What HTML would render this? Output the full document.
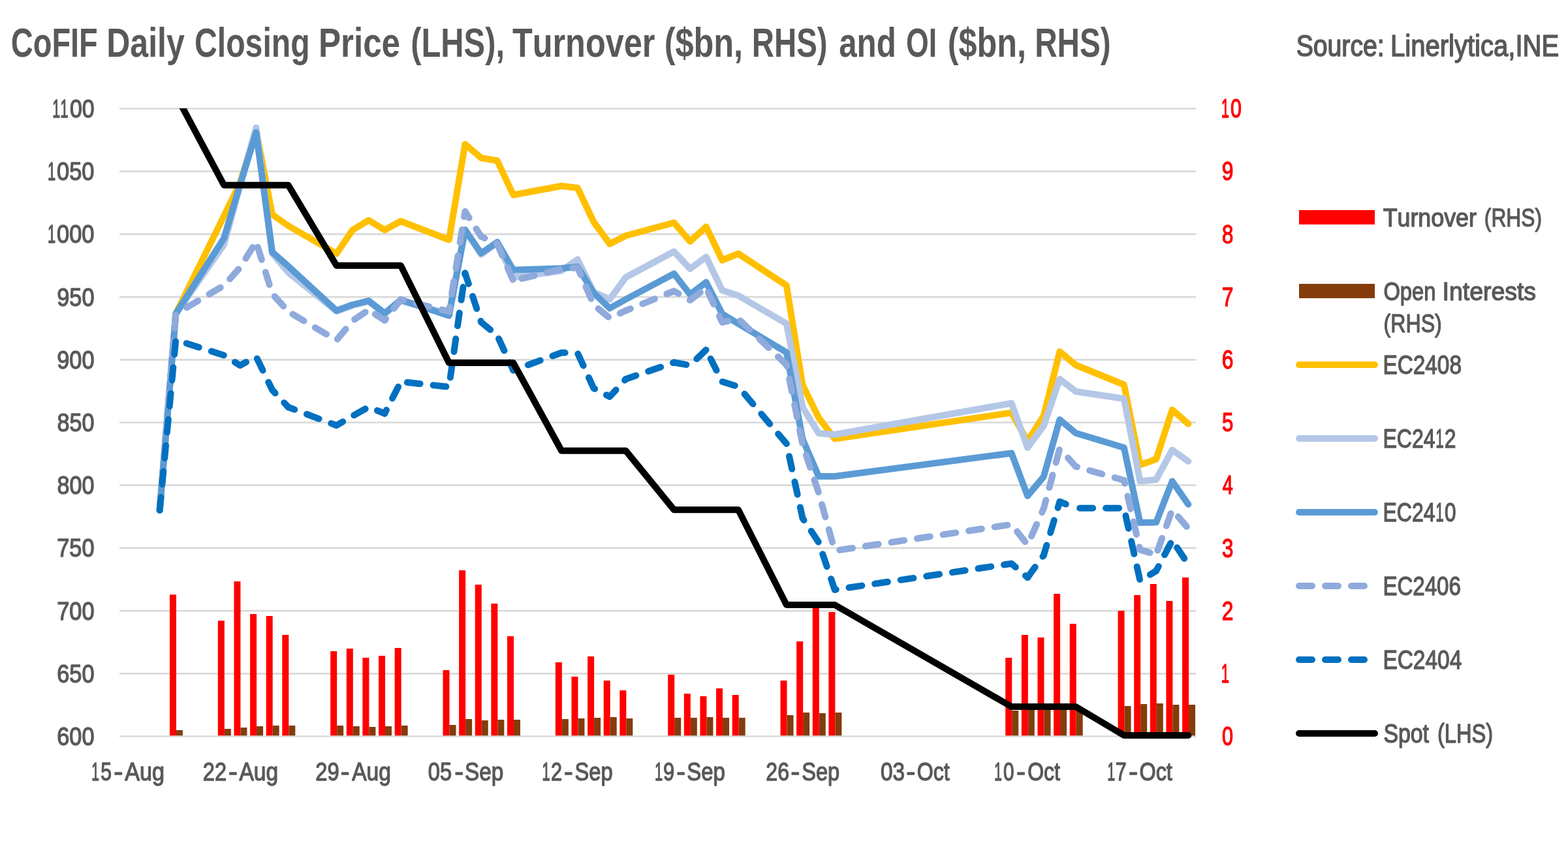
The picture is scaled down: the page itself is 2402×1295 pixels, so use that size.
<!DOCTYPE html>
<html lang="en"><head><meta charset="utf-8"><title>CoFIF Daily Closing Price</title>
<style>html,body{margin:0;padding:0;background:#fff;width:2402px;height:1295px;overflow:hidden}svg{display:block}text{font-family:"Liberation Sans",Arial,sans-serif;stroke-linejoin:round;font-kerning:none}</style></head><body>
<svg width="2402" height="1295" viewBox="0 0 2402 1295">
<title>CoFIF Daily Closing Price (LHS), Turnover ($bn, RHS) and OI ($bn, RHS)</title>
<desc>Combination chart. Source: Linerlytica,INE. Left axis 600 650 700 750 800 850 900 950 1000 1050 1100. Right axis 0 1 2 3 4 5 6 7 8 9 10. Dates 15-Aug 22-Aug 29-Aug 05-Sep 12-Sep 19-Sep 26-Sep 03-Oct 10-Oct 17-Oct. Series: Turnover (RHS), Open Interests (RHS), EC2408, EC2412, EC2410, EC2406, EC2404, Spot (LHS).</desc>
<rect width="2402" height="1295" fill="#fff"/>
<defs><clipPath id="pc"><rect x="150" y="166" width="1720" height="1000"/></clipPath></defs>
<path d="M183.1 166.50H1832.6 M183.1 262.70H1832.6 M183.1 358.90H1832.6 M183.1 455.10H1832.6 M183.1 551.30H1832.6 M183.1 647.50H1832.6 M183.1 743.70H1832.6 M183.1 839.90H1832.6 M183.1 936.10H1832.6 M183.1 1032.30H1832.6" stroke="#D9D9D9" stroke-width="2.7" fill="none"/>
<path d="M259.97 1128.5V911.25h10V1128.5zM333.83 1128.5V951.25h10V1128.5zM358.45 1128.5V891.00h10V1128.5zM383.07 1128.5V941.00h10V1128.5zM407.69 1128.5V944.00h10V1128.5zM432.31 1128.5V973.00h10V1128.5zM506.17 1128.5V998.00h10V1128.5zM530.79 1128.5V994.00h10V1128.5zM555.41 1128.5V1008.00h10V1128.5zM580.03 1128.5V1005.00h10V1128.5zM604.65 1128.5V993.00h10V1128.5zM678.51 1128.5V1027.00h10V1128.5zM703.13 1128.5V874.00h10V1128.5zM727.75 1128.5V896.00h10V1128.5zM752.37 1128.5V925.00h10V1128.5zM776.99 1128.5V975.00h10V1128.5zM850.85 1128.5V1015.00h10V1128.5zM875.47 1128.5V1037.00h10V1128.5zM900.09 1128.5V1006.00h10V1128.5zM924.71 1128.5V1043.00h10V1128.5zM949.33 1128.5V1058.00h10V1128.5zM1023.19 1128.5V1034.00h10V1128.5zM1047.81 1128.5V1063.00h10V1128.5zM1072.43 1128.5V1067.00h10V1128.5zM1097.05 1128.5V1055.00h10V1128.5zM1121.67 1128.5V1065.00h10V1128.5zM1195.53 1128.5V1043.00h10V1128.5zM1220.15 1128.5V983.00h10V1128.5zM1244.77 1128.5V930.00h10V1128.5zM1269.39 1128.5V938.00h10V1128.5zM1540.21 1128.5V1008.00h10V1128.5zM1564.83 1128.5V973.00h10V1128.5zM1589.45 1128.5V977.00h10V1128.5zM1614.07 1128.5V910.00h10V1128.5zM1638.69 1128.5V956.00h10V1128.5zM1712.55 1128.5V936.00h10V1128.5zM1737.17 1128.5V912.00h10V1128.5zM1761.79 1128.5V895.00h10V1128.5zM1786.41 1128.5V921.00h10V1128.5zM1811.03 1128.5V885.00h10V1128.5z" fill="#FF0000"/>
<path d="M269.97 1128.5V1119.00h10V1128.5zM343.83 1128.5V1117.00h10V1128.5zM368.45 1128.5V1115.00h10V1128.5zM393.07 1128.5V1113.00h10V1128.5zM417.69 1128.5V1112.00h10V1128.5zM442.31 1128.5V1112.00h10V1128.5zM516.17 1128.5V1112.00h10V1128.5zM540.79 1128.5V1113.00h10V1128.5zM565.41 1128.5V1114.00h10V1128.5zM590.03 1128.5V1113.00h10V1128.5zM614.65 1128.5V1112.00h10V1128.5zM688.51 1128.5V1111.00h10V1128.5zM713.13 1128.5V1102.00h10V1128.5zM737.75 1128.5V1104.00h10V1128.5zM762.37 1128.5V1103.00h10V1128.5zM786.99 1128.5V1103.00h10V1128.5zM860.85 1128.5V1102.00h10V1128.5zM885.47 1128.5V1101.00h10V1128.5zM910.09 1128.5V1100.00h10V1128.5zM934.71 1128.5V1099.00h10V1128.5zM959.33 1128.5V1101.00h10V1128.5zM1033.19 1128.5V1100.00h10V1128.5zM1057.81 1128.5V1100.00h10V1128.5zM1082.43 1128.5V1099.00h10V1128.5zM1107.05 1128.5V1100.00h10V1128.5zM1131.67 1128.5V1100.00h10V1128.5zM1205.53 1128.5V1096.00h10V1128.5zM1230.15 1128.5V1092.00h10V1128.5zM1254.77 1128.5V1093.00h10V1128.5zM1279.39 1128.5V1092.00h10V1128.5zM1550.21 1128.5V1089.00h10V1128.5zM1574.83 1128.5V1088.00h10V1128.5zM1599.45 1128.5V1087.00h10V1128.5zM1624.07 1128.5V1086.00h10V1128.5zM1648.69 1128.5V1086.00h10V1128.5zM1722.55 1128.5V1082.00h10V1128.5zM1747.17 1128.5V1079.00h10V1128.5zM1771.79 1128.5V1078.00h10V1128.5zM1796.41 1128.5V1080.00h10V1128.5zM1821.03 1128.5V1080.00h10V1128.5z" fill="#843C0C"/>
<path d="M183.1 1128.50H1832.6" stroke="#D9D9D9" stroke-width="2.7" fill="none"/>
<g clip-path="url(#pc)">
<polyline points="244.65,782.00 269.27,481.00 343.13,331.00 367.75,280.00 392.37,200.50 416.99,328.75 441.61,346.00 515.47,388.75 540.09,352.50 564.71,337.50 589.33,352.50 613.95,339.00 687.81,367.50 712.43,221.00 737.05,242.00 761.67,246.25 786.29,298.75 860.15,285.00 884.77,288.00 909.39,340.00 934.01,373.75 958.63,361.25 1032.49,341.25 1057.11,370.00 1081.73,347.50 1106.35,398.75 1130.97,388.75 1204.83,437.50 1229.45,590.00 1254.07,640.00 1278.69,672.50 1549.51,632.50 1574.13,676.00 1598.75,637.50 1623.37,538.75 1647.99,559.50 1721.85,589.50 1746.47,712.50 1771.09,703.75 1795.71,628.00 1820.33,649.50" fill="none" stroke="#FFC000" stroke-width="10" stroke-linejoin="round" stroke-linecap="round"/>
<polyline points="244.65,782.00 269.27,481.00 343.13,375.00 367.75,284.00 392.37,195.50 416.99,388.00 441.61,417.50 515.47,477.00 540.09,468.00 564.71,462.00 589.33,481.00 613.95,461.00 687.81,481.00 712.43,352.00 737.05,390.00 761.67,372.00 786.29,425.00 860.15,415.00 884.77,397.50 909.39,447.50 934.01,458.75 958.63,425.00 1032.49,385.50 1057.11,412.00 1081.73,393.75 1106.35,445.00 1130.97,453.00 1204.83,496.00 1229.45,624.00 1254.07,664.00 1278.69,666.00 1549.51,618.00 1574.13,686.00 1598.75,652.50 1623.37,581.00 1647.99,600.00 1721.85,611.00 1746.47,737.50 1771.09,735.00 1795.71,689.50 1820.33,707.00" fill="none" stroke="#B4C7E7" stroke-width="10" stroke-linejoin="round" stroke-linecap="round"/>
<polyline points="244.65,782.00 269.27,481.00 343.13,365.00 367.75,283.00 392.37,203.00 416.99,386.25 441.61,408.00 515.47,476.00 540.09,467.00 564.71,461.00 589.33,480.00 613.95,459.50 687.81,483.75 712.43,352.50 737.05,388.00 761.67,371.00 786.29,413.75 860.15,411.25 884.77,408.75 909.39,448.75 934.01,472.50 958.63,458.75 1032.49,419.50 1057.11,451.25 1081.73,432.50 1106.35,481.00 1130.97,496.00 1204.83,540.00 1229.45,673.00 1254.07,730.00 1278.69,730.00 1549.51,694.50 1574.13,760.00 1598.75,730.50 1623.37,643.00 1647.99,663.75 1721.85,686.00 1746.47,801.00 1771.09,800.50 1795.71,737.50 1820.33,773.00" fill="none" stroke="#5B9BD5" stroke-width="10" stroke-linejoin="round" stroke-linecap="round"/>
<g fill="none" stroke="#8FAADC" stroke-width="10" stroke-linejoin="round" stroke-linecap="round" stroke-dasharray="20 20"><polyline points="244.65,782.00 269.27,481.00" stroke-dashoffset="0.00"/><polyline points="269.27,481.00 343.13,437.50" stroke-dashoffset="20.55"/><polyline points="343.13,437.50 367.75,410.00 392.37,370.50" stroke-dashoffset="26.67"/><polyline points="392.37,370.50 416.99,450.00" stroke-dashoffset="31.25"/><polyline points="416.99,450.00 441.61,477.50" stroke-dashoffset="34.22"/><polyline points="441.61,477.50 515.47,521.50" stroke-dashoffset="32.09"/><polyline points="515.47,521.50 540.09,491.50" stroke-dashoffset="37.79"/><polyline points="540.09,491.50 564.71,475.00" stroke-dashoffset="36.48"/><polyline points="564.71,475.00 589.33,491.00" stroke-dashoffset="28.17"/><polyline points="589.33,491.00 613.95,459.00" stroke-dashoffset="17.09"/><polyline points="613.95,459.00 687.81,477.50" stroke-dashoffset="15.32"/><polyline points="687.81,477.50 712.43,324.00 737.05,362.50 761.67,373.75" stroke-dashoffset="12.87"/><polyline points="761.67,373.75 786.29,430.00" stroke-dashoffset="0.25"/><polyline points="786.29,430.00 860.15,412.50 884.77,410.00" stroke-dashoffset="26.63"/><polyline points="884.77,410.00 909.39,467.00" stroke-dashoffset="7.93"/><polyline points="909.39,467.00 934.01,487.50 958.63,476.00" stroke-dashoffset="30.54"/><polyline points="958.63,476.00 1032.49,446.00 1057.11,460.00" stroke-dashoffset="12.23"/><polyline points="1057.11,460.00 1081.73,441.50" stroke-dashoffset="0.21"/><polyline points="1081.73,441.50 1106.35,494.00 1130.97,488.50" stroke-dashoffset="32.71"/><polyline points="1130.97,488.50 1204.83,559.00" stroke-dashoffset="35.73"/><polyline points="1204.83,559.00 1229.45,681.00" stroke-dashoffset="17.88"/><polyline points="1229.45,681.00 1254.07,755.00" stroke-dashoffset="22.76"/><polyline points="1254.07,755.00 1278.69,844.00" stroke-dashoffset="21.27"/><polyline points="1278.69,844.00 1549.51,803.75" stroke-dashoffset="32.36"/><polyline points="1549.51,803.75 1574.13,835.00" stroke-dashoffset="26.20"/><polyline points="1574.13,835.00 1598.75,779.50" stroke-dashoffset="25.54"/><polyline points="1598.75,779.50 1623.37,687.50" stroke-dashoffset="6.64"/><polyline points="1623.37,687.50 1647.99,715.00" stroke-dashoffset="20.90"/><polyline points="1647.99,715.00 1721.85,736.00" stroke-dashoffset="18.03"/><polyline points="1721.85,736.00 1746.47,842.50 1771.09,850.00" stroke-dashoffset="14.87"/><polyline points="1771.09,850.00 1795.71,781.00" stroke-dashoffset="33.15"/><polyline points="1795.71,781.00 1820.33,810.00" stroke-dashoffset="25.91"/></g>
<g fill="none" stroke="#0070C0" stroke-width="10" stroke-linejoin="round" stroke-linecap="round" stroke-dasharray="20 20"><polyline points="244.65,782.00 269.27,521.00" stroke-dashoffset="0.00"/><polyline points="269.27,521.00 343.13,544.50 367.75,560.00 392.37,546.50" stroke-dashoffset="22.77"/><polyline points="392.37,546.50 416.99,597.50 441.61,624.00" stroke-dashoffset="36.53"/><polyline points="441.61,624.00 515.47,652.00 540.09,637.50" stroke-dashoffset="9.76"/><polyline points="540.09,637.50 564.71,623.75 589.33,633.75" stroke-dashoffset="37.58"/><polyline points="589.33,633.75 613.95,585.00" stroke-dashoffset="13.97"/><polyline points="613.95,585.00 687.81,593.00" stroke-dashoffset="30.12"/><polyline points="687.81,593.00 712.43,418.50" stroke-dashoffset="25.47"/><polyline points="712.43,418.50 737.05,493.75 761.67,514.00" stroke-dashoffset="2.61"/><polyline points="761.67,514.00 786.29,567.50" stroke-dashoffset="34.35"/><polyline points="786.29,567.50 860.15,540.50 884.77,541.00" stroke-dashoffset="15.88"/><polyline points="884.77,541.00 909.39,595.00 934.01,608.00 958.63,581.00" stroke-dashoffset="38.64"/><polyline points="958.63,581.00 1032.49,555.50" stroke-dashoffset="3.39"/><polyline points="1032.49,555.50 1057.11,560.00 1081.73,536.00" stroke-dashoffset="0.80"/><polyline points="1081.73,536.00 1106.35,585.00" stroke-dashoffset="24.70"/><polyline points="1106.35,585.00 1130.97,592.50" stroke-dashoffset="39.72"/><polyline points="1130.97,592.50 1204.83,680.00" stroke-dashoffset="25.17"/><polyline points="1204.83,680.00 1229.45,794.00" stroke-dashoffset="20.30"/><polyline points="1229.45,794.00 1254.07,831.00" stroke-dashoffset="16.19"/><polyline points="1254.07,831.00 1278.69,903.75" stroke-dashoffset="20.71"/><polyline points="1278.69,903.75 1549.51,863.75 1574.13,885.00" stroke-dashoffset="17.91"/><polyline points="1574.13,885.00 1598.75,851.00" stroke-dashoffset="0.30"/><polyline points="1598.75,851.00 1623.37,768.75 1647.99,778.75" stroke-dashoffset="3.92"/><polyline points="1647.99,778.75 1721.85,778.75" stroke-dashoffset="33.89"/><polyline points="1721.85,778.75 1746.47,890.00 1771.09,875.00" stroke-dashoffset="28.13"/><polyline points="1771.09,875.00 1795.71,828.00" stroke-dashoffset="12.15"/><polyline points="1795.71,828.00 1820.33,865.00" stroke-dashoffset="26.49"/></g>
<polyline points="269.27,145.40 343.13,283.75 441.61,283.75 515.47,407.00 613.95,407.00 687.81,556.00 786.29,556.00 860.15,690.75 958.63,690.75 1032.49,781.25 1130.97,781.25 1204.83,927.00 1278.69,927.00 1549.51,1083.00 1647.99,1083.00 1721.85,1127.00 1820.33,1127.00" fill="none" stroke="#000000" stroke-width="10" stroke-linejoin="round" stroke-linecap="round"/>
</g>
<rect x="1990" y="322" width="116" height="22" fill="#FF0000"/>
<rect x="1990" y="435" width="116" height="22" fill="#843C0C"/>
<path d="M1990 559H2106" stroke="#FFC000" stroke-width="10" stroke-linecap="round" fill="none"/>
<path d="M1990 672H2106" stroke="#B4C7E7" stroke-width="10" stroke-linecap="round" fill="none"/>
<path d="M1990 785H2106" stroke="#5B9BD5" stroke-width="10" stroke-linecap="round" fill="none"/>
<path d="M1990 898H2106" stroke="#8FAADC" stroke-width="10" stroke-linecap="round" fill="none" stroke-dasharray="20 20"/>
<path d="M1990 1011H2106" stroke="#0070C0" stroke-width="10" stroke-linecap="round" fill="none" stroke-dasharray="20 20"/>
<path d="M1990 1124H2106" stroke="#000000" stroke-width="10" stroke-linecap="round" fill="none"/>
<text y="87.20" font-size="62.90" font-weight="bold" fill="#595959"><tspan x="16.87" textLength="132.86" lengthAdjust="spacingAndGlyphs">CoFIF</tspan> <tspan x="163.19" textLength="119.71" lengthAdjust="spacingAndGlyphs">Daily</tspan> <tspan x="297.97" textLength="176.74" lengthAdjust="spacingAndGlyphs">Closing</tspan> <tspan x="487.92" textLength="125.14" lengthAdjust="spacingAndGlyphs">Price</tspan> <tspan x="629.26" textLength="143.76" lengthAdjust="spacingAndGlyphs">(LHS),</tspan> <tspan x="784.90" textLength="218.51" lengthAdjust="spacingAndGlyphs">Turnover</tspan> <tspan x="1017.68" textLength="120.38" lengthAdjust="spacingAndGlyphs">($bn,</tspan> <tspan x="1151.79" textLength="115.71" lengthAdjust="spacingAndGlyphs">RHS)</tspan> <tspan x="1285.22" textLength="87.52" lengthAdjust="spacingAndGlyphs">and</tspan> <tspan x="1388.11" textLength="47.12" lengthAdjust="spacingAndGlyphs">OI</tspan> <tspan x="1451.78" textLength="120.17" lengthAdjust="spacingAndGlyphs">($bn,</tspan> <tspan x="1585.16" textLength="116.55" lengthAdjust="spacingAndGlyphs">RHS)</tspan></text>
<text y="86.40" font-size="46.09" fill="#595959" stroke="#595959" stroke-width="1.6"><tspan x="1985.72" textLength="134.87" lengthAdjust="spacingAndGlyphs">Source:</tspan> <tspan x="2129.99" textLength="258.19" lengthAdjust="spacingAndGlyphs">Linerlytica,INE</tspan></text>
<text y="179.92" font-size="39.21" fill="#595959" stroke="#595959" stroke-width="1.35"><tspan x="80.35" textLength="11.98" lengthAdjust="spacingAndGlyphs">1</tspan><tspan x="92.29" textLength="12.46" lengthAdjust="spacingAndGlyphs">1</tspan><tspan x="107.03" textLength="37.62" lengthAdjust="spacingAndGlyphs">00</tspan></text>
<text y="276.12" font-size="39.21" fill="#595959" stroke="#595959" stroke-width="1.35"><tspan x="73.02" textLength="12.22" lengthAdjust="spacingAndGlyphs">1</tspan><tspan x="87.01" textLength="57.52" lengthAdjust="spacingAndGlyphs">050</tspan></text>
<text y="372.32" font-size="39.21" fill="#595959" stroke="#595959" stroke-width="1.35"><tspan x="73.02" textLength="12.22" lengthAdjust="spacingAndGlyphs">1</tspan><tspan x="87.01" textLength="57.52" lengthAdjust="spacingAndGlyphs">000</tspan></text>
<text y="468.53" font-size="39.21" fill="#595959" stroke="#595959" stroke-width="1.35"><tspan x="87.27" textLength="57.26" lengthAdjust="spacingAndGlyphs">950</tspan></text>
<text y="564.73" font-size="39.21" fill="#595959" stroke="#595959" stroke-width="1.35"><tspan x="87.27" textLength="57.26" lengthAdjust="spacingAndGlyphs">900</tspan></text>
<text y="660.93" font-size="39.21" fill="#595959" stroke="#595959" stroke-width="1.35"><tspan x="87.62" textLength="56.91" lengthAdjust="spacingAndGlyphs">850</tspan></text>
<text y="757.13" font-size="39.21" fill="#595959" stroke="#595959" stroke-width="1.35"><tspan x="87.62" textLength="56.91" lengthAdjust="spacingAndGlyphs">800</tspan></text>
<text y="853.33" font-size="39.21" fill="#595959" stroke="#595959" stroke-width="1.35"><tspan x="87.27" textLength="57.26" lengthAdjust="spacingAndGlyphs">750</tspan></text>
<text y="949.53" font-size="39.21" fill="#595959" stroke="#595959" stroke-width="1.35"><tspan x="87.27" textLength="57.26" lengthAdjust="spacingAndGlyphs">700</tspan></text>
<text y="1045.73" font-size="39.21" fill="#595959" stroke="#595959" stroke-width="1.35"><tspan x="87.27" textLength="57.26" lengthAdjust="spacingAndGlyphs">650</tspan></text>
<text y="1141.92" font-size="39.21" fill="#595959" stroke="#595959" stroke-width="1.35"><tspan x="87.27" textLength="57.26" lengthAdjust="spacingAndGlyphs">600</tspan></text>
<text y="180.12" font-size="39.79" fill="#FF0000" stroke="#FF0000" stroke-width="1.35"><tspan x="1870.81" textLength="12.23" lengthAdjust="spacingAndGlyphs">1</tspan><tspan x="1884.90" textLength="16.88" lengthAdjust="spacingAndGlyphs">0</tspan></text>
<text y="276.32" font-size="39.79" fill="#FF0000" stroke="#FF0000" stroke-width="1.35"><tspan x="1871.75" textLength="17.68" lengthAdjust="spacingAndGlyphs">9</tspan></text>
<text y="372.52" font-size="39.79" fill="#FF0000" stroke="#FF0000" stroke-width="1.35"><tspan x="1872.08" textLength="17.33" lengthAdjust="spacingAndGlyphs">8</tspan></text>
<text y="468.73" font-size="39.79" fill="#FF0000" stroke="#FF0000" stroke-width="1.35"><tspan x="1871.75" textLength="17.68" lengthAdjust="spacingAndGlyphs">7</tspan></text>
<text y="564.92" font-size="39.79" fill="#FF0000" stroke="#FF0000" stroke-width="1.35"><tspan x="1871.75" textLength="17.68" lengthAdjust="spacingAndGlyphs">6</tspan></text>
<text y="661.12" font-size="39.79" fill="#FF0000" stroke="#FF0000" stroke-width="1.35"><tspan x="1872.08" textLength="17.33" lengthAdjust="spacingAndGlyphs">5</tspan></text>
<text y="757.33" font-size="39.79" fill="#FF0000" stroke="#FF0000" stroke-width="1.35"><tspan x="1872.71" textLength="16.06" lengthAdjust="spacingAndGlyphs">4</tspan></text>
<text y="853.52" font-size="39.79" fill="#FF0000" stroke="#FF0000" stroke-width="1.35"><tspan x="1872.08" textLength="17.33" lengthAdjust="spacingAndGlyphs">3</tspan></text>
<text y="949.73" font-size="39.79" fill="#FF0000" stroke="#FF0000" stroke-width="1.35"><tspan x="1871.75" textLength="17.68" lengthAdjust="spacingAndGlyphs">2</tspan></text>
<text y="1045.93" font-size="39.79" fill="#FF0000" stroke="#FF0000" stroke-width="1.35"><tspan x="1870.81" textLength="12.23" lengthAdjust="spacingAndGlyphs">1</tspan></text>
<text y="1142.12" font-size="39.79" fill="#FF0000" stroke="#FF0000" stroke-width="1.35"><tspan x="1872.10" textLength="16.99" lengthAdjust="spacingAndGlyphs">0</tspan></text>
<text y="1195.92" font-size="39.36" fill="#595959" stroke="#595959" stroke-width="1.35"><tspan x="140.37" textLength="11.74" lengthAdjust="spacingAndGlyphs">1</tspan><tspan x="154.31" textLength="16.77" lengthAdjust="spacingAndGlyphs">5</tspan><tspan x="174.34" textLength="14.06" lengthAdjust="spacingAndGlyphs">-</tspan><tspan x="191.19" textLength="60.80" lengthAdjust="spacingAndGlyphs">Aug</tspan></text>
<text y="1195.92" font-size="39.36" fill="#595959" stroke="#595959" stroke-width="1.35"><tspan x="310.82" textLength="36.43" lengthAdjust="spacingAndGlyphs">22</tspan><tspan x="349.83" textLength="14.18" lengthAdjust="spacingAndGlyphs">-</tspan><tspan x="366.38" textLength="59.78" lengthAdjust="spacingAndGlyphs">Aug</tspan></text>
<text y="1195.92" font-size="39.36" fill="#595959" stroke="#595959" stroke-width="1.35"><tspan x="483.32" textLength="36.43" lengthAdjust="spacingAndGlyphs">29</tspan><tspan x="521.66" textLength="13.71" lengthAdjust="spacingAndGlyphs">-</tspan><tspan x="539.18" textLength="59.78" lengthAdjust="spacingAndGlyphs">Aug</tspan></text>
<text y="1195.92" font-size="39.36" fill="#595959" stroke="#595959" stroke-width="1.35"><tspan x="655.76" textLength="36.27" lengthAdjust="spacingAndGlyphs">05</tspan><tspan x="696.24" textLength="13.94" lengthAdjust="spacingAndGlyphs">-</tspan><tspan x="712.01" textLength="59.13" lengthAdjust="spacingAndGlyphs">Sep</tspan></text>
<text y="1195.92" font-size="39.36" fill="#595959" stroke="#595959" stroke-width="1.35"><tspan x="830.28" textLength="12.58" lengthAdjust="spacingAndGlyphs">1</tspan><tspan x="843.99" textLength="17.10" lengthAdjust="spacingAndGlyphs">2</tspan><tspan x="863.96" textLength="13.71" lengthAdjust="spacingAndGlyphs">-</tspan><tspan x="880.53" textLength="58.10" lengthAdjust="spacingAndGlyphs">Sep</tspan></text>
<text y="1195.92" font-size="39.36" fill="#595959" stroke="#595959" stroke-width="1.35"><tspan x="1003.12" textLength="12.22" lengthAdjust="spacingAndGlyphs">1</tspan><tspan x="1015.89" textLength="17.10" lengthAdjust="spacingAndGlyphs">9</tspan><tspan x="1036.26" textLength="13.71" lengthAdjust="spacingAndGlyphs">-</tspan><tspan x="1052.32" textLength="58.61" lengthAdjust="spacingAndGlyphs">Sep</tspan></text>
<text y="1195.92" font-size="39.36" fill="#595959" stroke="#595959" stroke-width="1.35"><tspan x="1173.35" textLength="35.66" lengthAdjust="spacingAndGlyphs">26</tspan><tspan x="1211.24" textLength="14.06" lengthAdjust="spacingAndGlyphs">-</tspan><tspan x="1228.23" textLength="58.00" lengthAdjust="spacingAndGlyphs">Sep</tspan></text>
<text y="1195.92" font-size="39.36" fill="#595959" stroke="#595959" stroke-width="1.35"><tspan x="1349.04" textLength="37.00" lengthAdjust="spacingAndGlyphs">03</tspan><tspan x="1388.24" textLength="13.94" lengthAdjust="spacingAndGlyphs">-</tspan><tspan x="1404.74" textLength="49.99" lengthAdjust="spacingAndGlyphs">Oct</tspan></text>
<text y="1195.92" font-size="39.36" fill="#595959" stroke="#595959" stroke-width="1.35"><tspan x="1523.05" textLength="11.98" lengthAdjust="spacingAndGlyphs">1</tspan><tspan x="1537.02" textLength="16.44" lengthAdjust="spacingAndGlyphs">0</tspan><tspan x="1557.04" textLength="14.06" lengthAdjust="spacingAndGlyphs">-</tspan><tspan x="1574.25" textLength="49.69" lengthAdjust="spacingAndGlyphs">Oct</tspan></text>
<text y="1195.92" font-size="39.36" fill="#595959" stroke="#595959" stroke-width="1.35"><tspan x="1696.25" textLength="11.98" lengthAdjust="spacingAndGlyphs">1</tspan><tspan x="1708.80" textLength="16.88" lengthAdjust="spacingAndGlyphs">7</tspan><tspan x="1729.14" textLength="14.06" lengthAdjust="spacingAndGlyphs">-</tspan><tspan x="1745.44" textLength="50.40" lengthAdjust="spacingAndGlyphs">Oct</tspan></text>
<text y="346.62" font-size="39.64" fill="#595959" stroke="#595959" stroke-width="1.35"><tspan x="2118.69" textLength="143.17" lengthAdjust="spacingAndGlyphs">Turnover</tspan> <tspan x="2273.84" textLength="88.14" lengthAdjust="spacingAndGlyphs">(RHS)</tspan></text>
<text y="459.72" font-size="39.64" fill="#595959" stroke="#595959" stroke-width="1.35"><tspan x="2119.42" textLength="79.89" lengthAdjust="spacingAndGlyphs">Open</tspan> <tspan x="2209.57" textLength="143.50" lengthAdjust="spacingAndGlyphs">Interests</tspan></text>
<text y="508.72" font-size="39.64" fill="#595959" stroke="#595959" stroke-width="1.35"><tspan x="2119.62" textLength="89.17" lengthAdjust="spacingAndGlyphs">(RHS)</tspan></text>
<text y="573.12" font-size="39.93" fill="#595959" stroke="#595959" stroke-width="1.35"><tspan x="2118.39" textLength="120.61" lengthAdjust="spacingAndGlyphs">EC2408</tspan></text>
<text y="686.12" font-size="39.93" fill="#595959" stroke="#595959" stroke-width="1.35"><tspan x="2118.48" textLength="80.09" lengthAdjust="spacingAndGlyphs">EC24</tspan><tspan x="2199.19" textLength="12.47" lengthAdjust="spacingAndGlyphs">1</tspan><tspan x="2212.65" textLength="17.69" lengthAdjust="spacingAndGlyphs">2</tspan></text>
<text y="799.12" font-size="39.93" fill="#595959" stroke="#595959" stroke-width="1.35"><tspan x="2118.48" textLength="80.09" lengthAdjust="spacingAndGlyphs">EC24</tspan><tspan x="2199.19" textLength="12.47" lengthAdjust="spacingAndGlyphs">1</tspan><tspan x="2212.98" textLength="17.43" lengthAdjust="spacingAndGlyphs">0</tspan></text>
<text y="912.12" font-size="39.93" fill="#595959" stroke="#595959" stroke-width="1.35"><tspan x="2118.41" textLength="119.48" lengthAdjust="spacingAndGlyphs">EC2406</tspan></text>
<text y="1025.12" font-size="39.93" fill="#595959" stroke="#595959" stroke-width="1.35"><tspan x="2118.39" textLength="120.88" lengthAdjust="spacingAndGlyphs">EC2404</tspan></text>
<text y="1138.12" font-size="39.93" fill="#595959" stroke="#595959" stroke-width="1.35"><tspan x="2119.38" textLength="69.59" lengthAdjust="spacingAndGlyphs">Spot</tspan> <tspan x="2201.89" textLength="85.26" lengthAdjust="spacingAndGlyphs">(LHS)</tspan></text>
</svg></body></html>
